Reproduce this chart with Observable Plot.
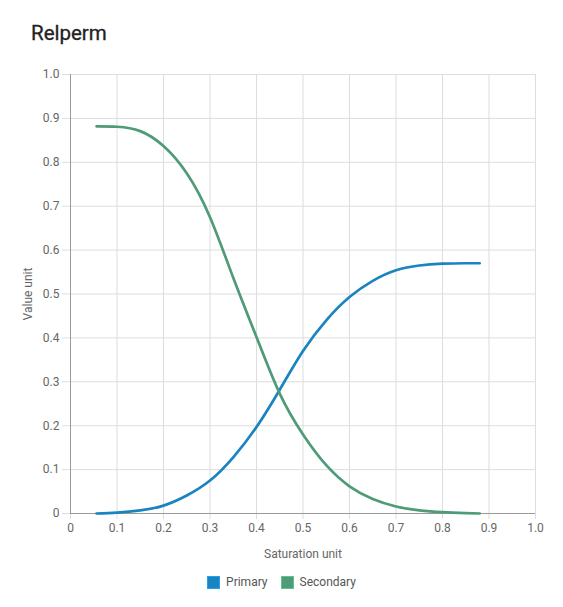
<!DOCTYPE html>
<html>
<head>
<meta charset="utf-8">
<script src="https://cdn.jsdelivr.net/npm/d3@7"></script>
<script src="https://cdn.jsdelivr.net/npm/@observablehq/plot@0.6"></script>
<style>
  body { margin: 0; background: #fff; font-family: Roboto, sans-serif; }
  #title { height: 60px; box-sizing: border-box; padding: 21px 0 0 31px; font-size: 20.5px; color: #222; font-weight: 400; -webkit-text-stroke: 0.3px #222; }
  #legend { display: flex; justify-content: center; gap: 13px; font-size: 12px; color: #555; margin-top: 10px; }
  #legend span.item { display: flex; align-items: center; gap: 6px; }
  #legend span.sw { width: 13px; height: 13px; display: inline-block; box-sizing: border-box; }
</style>
</head>
<body>
<div id="title">Relperm</div>
<div id="chart"></div>
<div id="legend"></div>
<script>
// saturation values (x) and the two relperm curves
const saturation = [0.056, 0.1, 0.15, 0.2, 0.25, 0.3, 0.35, 0.4, 0.45, 0.5, 0.55, 0.6, 0.65, 0.7, 0.75, 0.8, 0.85, 0.88]
const primary = [0, 0.002, 0.007, 0.018, 0.041, 0.075, 0.128, 0.197, 0.282, 0.37, 0.44, 0.493, 0.53, 0.554, 0.565, 0.569, 0.570, 0.570]
const secondary = [0.882, 0.881, 0.871, 0.837, 0.775, 0.675, 0.537, 0.402, 0.273, 0.18, 0.11, 0.062, 0.033, 0.016, 0.007, 0.003, 0.001, 0]
const seriesNames = ["Primary", "Secondary"]
const seriesColors = ["#1a84c1", "#4f9b77"]
const ticks = [0, 0.1, 0.2, 0.3, 0.4, 0.5, 0.6, 0.7, 0.8, 0.9, 1.0]

const data = saturation.flatMap((s, i) => [
  {sat: s, value: primary[i], serie: seriesNames[0]},
  {sat: s, value: secondary[i], serie: seriesNames[1]}
])

const fmt = d => d === 0 ? "0" : d.toFixed(1)

let chart = Plot.plot({
  width: 563,
  height: 505,
  marginLeft: 70,
  marginRight: 28,
  marginTop: 14,
  marginBottom: 52,
  style: {fontFamily: "Roboto, sans-serif", fontSize: "12px", color: "#666"},
  x: {type: "linear", domain: [0, 1]},
  y: {type: "linear", domain: [0, 1]},
  color: {domain: seriesNames, range: seriesColors},
  marks: [
    Plot.gridX(ticks.slice(1), {stroke: "#ddd", strokeOpacity: 1}),
    Plot.gridY(ticks.slice(1), {stroke: "#ddd", strokeOpacity: 1}),
    Plot.axisX(ticks, {tickFormat: fmt, tickSize: 6, tickPadding: 4, stroke: "#ddd", fill: "#666",
      label: "Saturation unit", labelAnchor: "center", labelArrow: "none", labelOffset: 44}),
    Plot.axisY(ticks, {tickFormat: fmt, tickSize: 8, tickPadding: 3, stroke: "#ddd", fill: "#666",
      label: "Value unit", labelAnchor: "center", labelArrow: "none", labelOffset: 47}),
    Plot.ruleX([0], {stroke: "#999"}),
    Plot.ruleY([0], {stroke: "#999"}),
    Plot.line(data, {x: "sat", y: "value", stroke: "serie", z: "serie", strokeWidth: 2.7, curve: "natural"})
  ]
})
d3.select('#chart').append(() => chart)

// legend
const legend = d3.select('#legend')
seriesNames.forEach((name, i) => {
  const item = legend.append('span').attr('class', 'item')
  item.append('span').attr('class', 'sw')
    .style('background', seriesColors[i])
    .style('border', '1px solid ' + d3.color(seriesColors[i]).brighter(0.6))
  item.append('span').text(name)
})
</script>
</body>
</html>
